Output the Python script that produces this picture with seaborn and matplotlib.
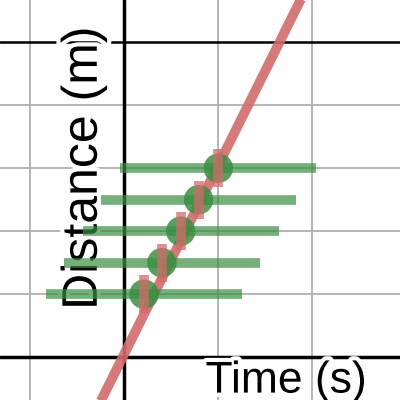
import matplotlib
matplotlib.use("Agg")
import matplotlib.pyplot as plt
import seaborn as sns
import numpy as np
import pandas as pd
import matplotlib.patheffects as pe

sns.set_theme(style="white")
plt.rcParams['font.family'] = ['Liberation Sans', 'DejaVu Sans']

time_s = [0.21, 0.40, 0.60, 0.79, 1.00]
distance_m = [1.0, 1.5, 2.0, 2.5, 3.0]
time_err = [1.04, 1.04, 1.04, 1.04, 1.04]
dist_err = [0.3, 0.3, 0.3, 0.3, 0.3]
line_x = [-0.5, 2.5]
line_slope = 3.0
line_intercept = 0.05

fig = plt.figure(figsize=(4, 4), dpi=100)
ax = fig.add_axes([0, 0, 1, 1])
x0, x1 = -1.32, 2.93
y0, y1 = -0.68, 5.67
ax.set_xlim(x0, x1); ax.set_ylim(y0, y1)
for gx in [-1, 1, 2]:
    ax.axvline(gx, color='#b0b0b0', lw=1.3, zorder=0)
for gy in [1, 2, 3, 4]:
    ax.axhline(gy, color='#b0b0b0', lw=1.3, zorder=0)
ax.axhline(5, color='black', lw=1.8, zorder=1)
ax.axvline(0, color='black', lw=2.5, zorder=1)
ax.axhline(0, color='black', lw=2.5, zorder=1)

ax.text(-0.43, 3.0, "Distance (m)", rotation=90, fontsize=36, ha='center', va='center',
        color='black', path_effects=[pe.withStroke(linewidth=6, foreground='white')], zorder=2)
ax.text(1.72, -0.38, "Time (s)", fontsize=32, ha='center', va='center',
        color='black', path_effects=[pe.withStroke(linewidth=6, foreground='white')], zorder=2)

lx = np.array(line_x)
sns.lineplot(x=lx, y=line_slope * lx + line_intercept, ax=ax, color='#d46a6a', lw=7,
             alpha=0.9, zorder=3, solid_capstyle='butt')
ax.errorbar(time_s, distance_m, xerr=time_err, fmt='none', ecolor='#3a8f42', alpha=0.7,
            elinewidth=7, capsize=0, zorder=4)
df = pd.DataFrame({'t': time_s, 'd': distance_m})
sns.scatterplot(data=df, x='t', y='d', ax=ax, color='#3a8f42', s=450, alpha=0.85,
                edgecolor='none', zorder=5)
ax.errorbar(time_s, distance_m, yerr=dist_err, fmt='none', ecolor='#d46a6a', alpha=0.75,
            elinewidth=7, capsize=0, zorder=6)
ax.set_xlabel(''); ax.set_ylabel('')
ax.set_xticks([]); ax.set_yticks([])
for s in ax.spines.values():
    s.set_visible(False)
fig.savefig("out.png", dpi=100)
